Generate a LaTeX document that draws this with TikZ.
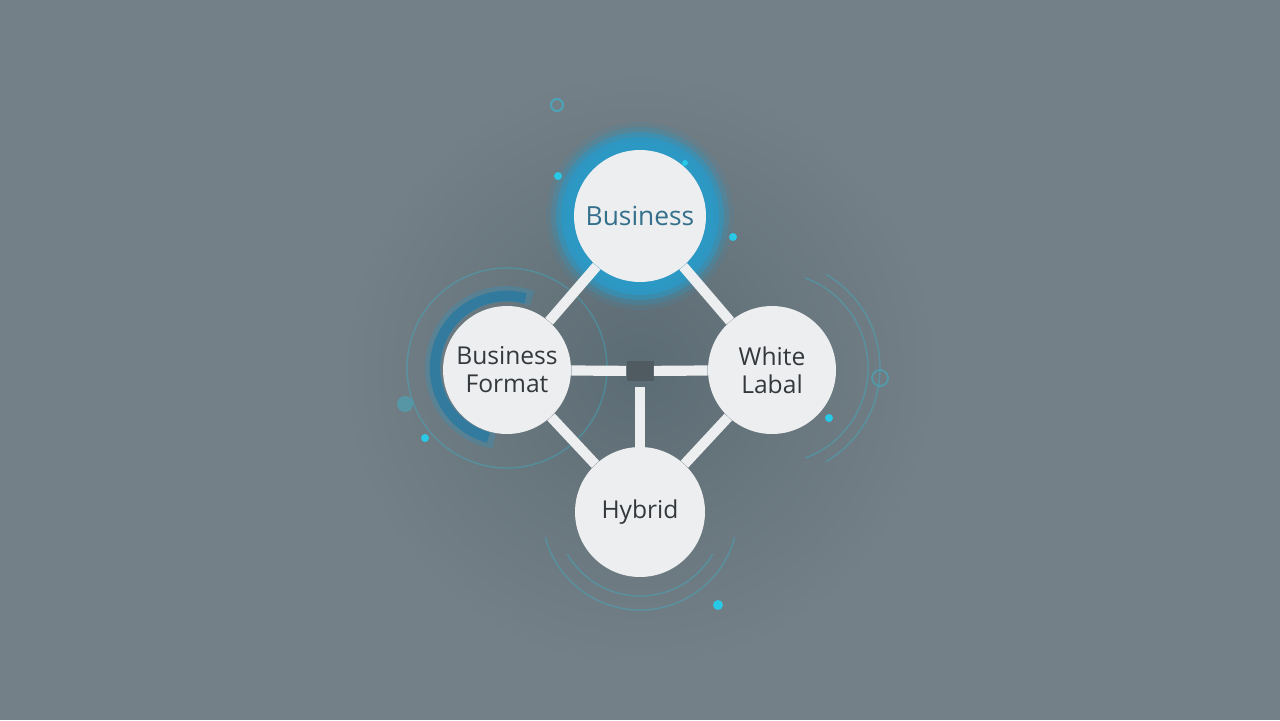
\documentclass[tikz,border=0pt]{standalone}
\usepackage{fontspec}
\setmainfont{Open Sans}
\usepackage{xcolor}
\usepackage{tikz}
\usetikzlibrary{positioning, calc}
\definecolor{slatebg}{RGB}{116,128,135}
\definecolor{slatedark}{RGB}{92,108,116}
\definecolor{glowblue}{RGB}{44,152,196}
\definecolor{ringblue}{RGB}{46,122,160}
\definecolor{dotcyan}{RGB}{40,200,230}
\definecolor{discwhite}{RGB}{236,238,239}
\definecolor{hubgrey}{RGB}{80,90,97}
\definecolor{textgrey}{RGB}{52,56,60}
\definecolor{textteal}{RGB}{52,112,140}
\tikzset{
  disc/.style={
      circle,
      fill=discwhite,
      minimum size=2.56cm,
      inner sep=0pt,
      align=center,
      text=textgrey,
      font=\fontsize{14}{16}\selectfont
  },
  hubbox/.style={
      rectangle,
      fill=hubgrey,
      minimum width=0.54cm,
      minimum height=0.40cm,
      inner sep=0pt
  },
  link/.style={draw=discwhite, line width=5.8pt},
  spark/.style={fill=dotcyan},
  faintarc/.style={draw=dotcyan, opacity=0.3, line width=0.8pt}
}
\begin{document}
\begin{tikzpicture}[x=0.02cm, y=-0.02cm]
      % Background
      \useasboundingbox (0,0) rectangle (1280,720);
      \fill[slatebg] (0,0) rectangle (1280,720);
      \shade[inner color=slatedark, outer color=slatebg] (640,370) circle (300);

      % Glow behind the top node
      \foreach \r/\o in {94/0.12,89/0.25,84/0.55,79/0.85,74/1} {
        \fill[glowblue, opacity=\o] (640,216) circle (\r);
      }
      % Blue arc behind the left node (y axis points down)
      \draw[glowblue, line width=9pt, opacity=0.3] (507,368) ++(-70:74) arc[start angle=-70, end angle=-260, radius=74];
      \draw[ringblue, line width=6pt, opacity=0.9] (507,368) ++(-75:72) arc[start angle=-75, end angle=-255, radius=72];

      % Faint rings
      \draw[faintarc] (507,368) circle (100);
      \draw[faintarc] (772,368) ++(-70:96) arc[start angle=-70, end angle=70, radius=96];
      \draw[faintarc] (772,368) ++(-60:108) arc[start angle=-60, end angle=60, radius=108];
      \draw[faintarc] (640,512) ++(15:98) arc[start angle=15, end angle=165, radius=98];
      \draw[faintarc] (640,512) ++(30:84) arc[start angle=30, end angle=150, radius=84];

      % Small dots
      \fill[spark] (558,176) circle (4);
      \fill[spark] (733,237) circle (4);
      \fill[spark] (685,163) circle (3);
      \fill[spark] (425,438) circle (4);
      \fill[spark] (718,605) circle (5);
      \fill[spark] (829,418) circle (4);
      \fill[dotcyan, opacity=0.35] (405,404) circle (8);
      \draw[dotcyan, opacity=0.5, line width=1.2pt] (557,105) circle (6);
      \draw[dotcyan, opacity=0.4, line width=1pt] (880,378) circle (8);

      % Nodes
      \node (hub) [hubbox] at (640,371) {};
      \node (business) [disc, minimum size=2.64cm, text=textteal, font=\fontsize{15}{17}\selectfont] at (640,216) {Business};
      \node (bizformat) [disc] at (507,370) {Business\\Format};
      \node (whitelabel) [disc] at (772,370) {White\\Labal};
      \node (hybrid) [disc, minimum size=2.6cm] at (640,512) {Hybrid};

      % Connections
      \draw[link] (business) -- (bizformat);
      \draw[link] (business) -- (whitelabel);
      \draw[link] (bizformat) -- (hybrid);
      \draw[link] (whitelabel) -- (hybrid);
      \draw[link] (bizformat) -- (hub);
      \draw[link] (whitelabel) -- (hub);
      \draw[link, shorten >=3pt] (hybrid) -- (hub);
\end{tikzpicture}
\end{document}
